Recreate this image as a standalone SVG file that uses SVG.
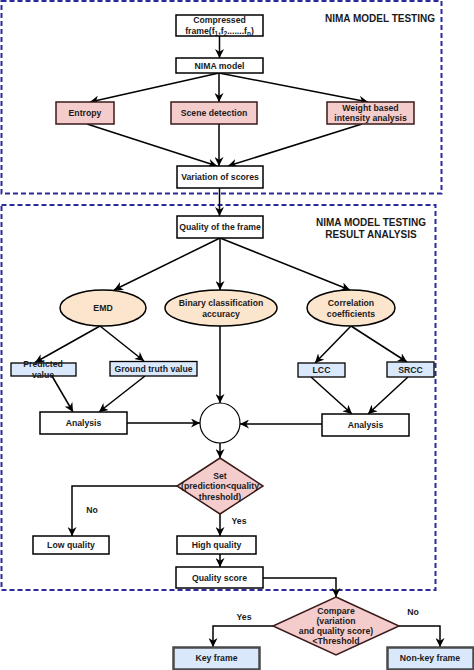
<svg xmlns="http://www.w3.org/2000/svg" width="474" height="670" viewBox="0 0 474 670">
<style>
.box{fill:#fff;stroke:#000;stroke-width:1.5}
.pink{fill:#f4cccc;stroke:#3a1a1a;stroke-width:1.5}
.blue{fill:#dae8fc;stroke:#000;stroke-width:1.3}
.ell{fill:#fce5cd;stroke:#000;stroke-width:1.5}
.key{fill:#dae8fc;stroke:#4a4a4a;stroke-width:2.5}
.frame{fill:none;stroke:#2a2a9a;stroke-width:2;stroke-dasharray:5,3}
.t{font-family:"Liberation Sans",Arial,sans-serif;font-weight:bold;font-size:8.7px;text-anchor:middle;fill:#1a1a1a}
.h{font-family:"Liberation Sans",Arial,sans-serif;font-weight:bold;font-size:10px;text-anchor:middle;fill:#1a1a1a}
.c{fill:none;stroke:#000;stroke-width:1.5;marker-end:url(#ah)}
</style>
<defs>
<marker id="ah" viewBox="0 0 10 10" refX="10" refY="5" markerWidth="9" markerHeight="9" markerUnits="userSpaceOnUse" orient="auto">
<path d="M0,0 L10,5 L0,10 L3,5 z" fill="#000"/>
</marker>
</defs>
<rect width="474" height="670" fill="#fff"/>
<g id="frames">
<rect class="frame" x="1.5" y="1" width="440" height="192.5"/>
<rect class="frame" x="1.5" y="205" width="434" height="385"/>
<text class="h" x="380" y="22">NIMA MODEL TESTING</text>
<text class="h" x="371" y="226">NIMA MODEL TESTING</text>
<text class="h" x="371" y="238">RESULT ANALYSIS</text>
</g>
<g id="connectors">
<line class="c" x1="219.5" y1="36" x2="219.5" y2="58"/>
<line class="c" x1="219" y1="73" x2="90" y2="102"/>
<line class="c" x1="219" y1="73" x2="219" y2="102"/>
<line class="c" x1="219" y1="73" x2="368" y2="102"/>
<line class="c" x1="87" y1="124" x2="217" y2="166"/>
<line class="c" x1="219" y1="124" x2="219" y2="166"/>
<line class="c" x1="362" y1="124" x2="228" y2="166"/>
<line class="c" x1="219.5" y1="188" x2="219.5" y2="216"/>
<line class="c" x1="220" y1="238" x2="114" y2="290"/>
<line class="c" x1="220" y1="238" x2="220" y2="290"/>
<line class="c" x1="220" y1="238" x2="350" y2="290"/>
<line class="c" x1="100" y1="326" x2="35" y2="362.5"/>
<line class="c" x1="100" y1="326" x2="144" y2="361"/>
<line class="c" x1="351" y1="326" x2="315" y2="363"/>
<line class="c" x1="351" y1="326" x2="407" y2="362"/>
<line class="c" x1="52" y1="376" x2="73" y2="412"/>
<line class="c" x1="145" y1="376" x2="99" y2="412"/>
<line class="c" x1="311" y1="377" x2="352" y2="414"/>
<line class="c" x1="408" y1="377" x2="368" y2="414"/>
<line class="c" x1="220" y1="326" x2="220" y2="403"/>
<line class="c" x1="127" y1="423" x2="200" y2="423"/>
<line class="c" x1="322" y1="424" x2="240" y2="424"/>
<line class="c" x1="220" y1="443" x2="220" y2="458"/>
<polyline class="c" points="177,486 72,486 72,536"/>
<line class="c" x1="220" y1="514" x2="220" y2="536"/>
<line class="c" x1="220" y1="554" x2="220" y2="567"/>
<polyline class="c" points="263,578 336,578 336,597"/>
<polyline class="c" points="273,626 213,626 213,647"/>
<polyline class="c" points="399,626 440,626 440,647"/>
<text class="t" x="92" y="513">No</text>
<text class="t" x="239" y="524">Yes</text>
<text class="t" x="244" y="620">Yes</text>
<text class="t" x="413" y="615">No</text>
</g>
<g id="compressed">
<rect class="box" x="176" y="15" width="87" height="21"/>
<text class="t" x="219.5" y="23">Compressed</text>
<text class="t" x="219.5" y="34">frame(f<tspan font-size="6.5" dy="2">1</tspan><tspan dy="-2">,f</tspan><tspan font-size="6.5" dy="2">2</tspan><tspan dy="-2">.......f</tspan><tspan font-size="6.5" dy="2">n</tspan><tspan dy="-2">)</tspan></text>
</g>
<g id="nima">
<rect class="box" x="176" y="58" width="87" height="15"/>
<text class="t" x="219.5" y="68.5">NIMA model</text>
</g>
<g id="entropy">
<rect class="pink" x="56" y="102" width="58" height="22"/>
<text class="t" x="85" y="116">Entropy</text>
</g>
<g id="scene">
<rect class="pink" x="171" y="102" width="86" height="22"/>
<text class="t" x="214" y="115.5">Scene detection</text>
</g>
<g id="weight">
<rect class="pink" x="327" y="102" width="87" height="22"/>
<text class="t" x="370.5" y="110.5">Weight based</text>
<text class="t" x="370.5" y="121">intensity analysis</text>
</g>
<g id="variation">
<rect class="box" x="177" y="166" width="86" height="22"/>
<text class="t" x="220" y="180">Variation of scores</text>
</g>
<g id="quality">
<rect class="box" x="177" y="216" width="86" height="22"/>
<text class="t" x="220" y="230">Quality of the frame</text>
</g>
<g id="emd">
<ellipse class="ell" cx="103" cy="308" rx="43" ry="18"/>
<text class="t" x="103" y="311">EMD</text>
</g>
<g id="binary">
<ellipse class="ell" cx="221" cy="308" rx="56" ry="18"/>
<text class="t" x="221" y="306">Binary classification</text>
<text class="t" x="221" y="317">accuracy</text>
</g>
<g id="correlation">
<ellipse class="ell" cx="351" cy="308" rx="44" ry="18"/>
<text class="t" x="351" y="306">Correlation</text>
<text class="t" x="351" y="317">coefficients</text>
</g>
<g id="predicted">
<rect class="blue" x="11" y="363" width="65" height="13"/>
<text class="t" x="43" y="367">Predicted</text>
<text class="t" x="43" y="378">value</text>
</g>
<g id="groundtruth">
<rect class="blue" x="110" y="361.5" width="87" height="14.5"/>
<text class="t" x="153.5" y="371.5">Ground truth value</text>
</g>
<g id="lcc">
<rect class="blue" x="298" y="363" width="47" height="14"/>
<text class="t" x="321.5" y="373">LCC</text>
</g>
<g id="srcc">
<rect class="blue" x="387" y="362" width="47" height="15"/>
<text class="t" x="410.5" y="372.5">SRCC</text>
</g>
<g id="analysis-left">
<rect class="box" x="40" y="412" width="87" height="22"/>
<text class="t" x="83.5" y="426">Analysis</text>
</g>
<g id="analysis-right">
<rect class="box" x="322" y="414" width="87" height="22"/>
<text class="t" x="365.5" y="428">Analysis</text>
</g>
<g id="circle">
<circle cx="220" cy="423" r="20" fill="#fff" stroke="#000" stroke-width="1.2"/>
</g>
<g id="set">
<polygon class="pink" points="220,458 263,486 220,514 177,486"/>
<text class="t" x="220" y="479">Set</text>
<text class="t" x="220" y="489">(prediction&lt;quality</text>
<text class="t" x="220" y="500">threshold)</text>
</g>
<g id="low">
<rect class="box" x="33" y="536" width="76" height="18"/>
<text class="t" x="71" y="548">Low quality</text>
</g>
<g id="high">
<rect class="box" x="177" y="536" width="79" height="18"/>
<text class="t" x="216.5" y="548">High quality</text>
</g>
<g id="qscore">
<rect class="box" x="176" y="567" width="87" height="21"/>
<text class="t" x="219.5" y="580.5">Quality score</text>
</g>
<g id="compare">
<polygon class="pink" points="336,597 399,626 336,655 273,626"/>
<text class="t" x="336" y="614">Compare</text>
<text class="t" x="336" y="624">(variation</text>
<text class="t" x="336" y="634">and quality score)</text>
<text class="t" x="336" y="644">&lt;Threshold</text>
</g>
<g id="key">
<rect class="key" x="173.5" y="647.5" width="86" height="22"/>
<text class="t" x="216.5" y="661">Key frame</text>
</g>
<g id="nonkey">
<rect class="key" x="387.5" y="647.5" width="86" height="22"/>
<text class="t" x="430" y="661">Non-key frame</text>
</g>
</svg>
